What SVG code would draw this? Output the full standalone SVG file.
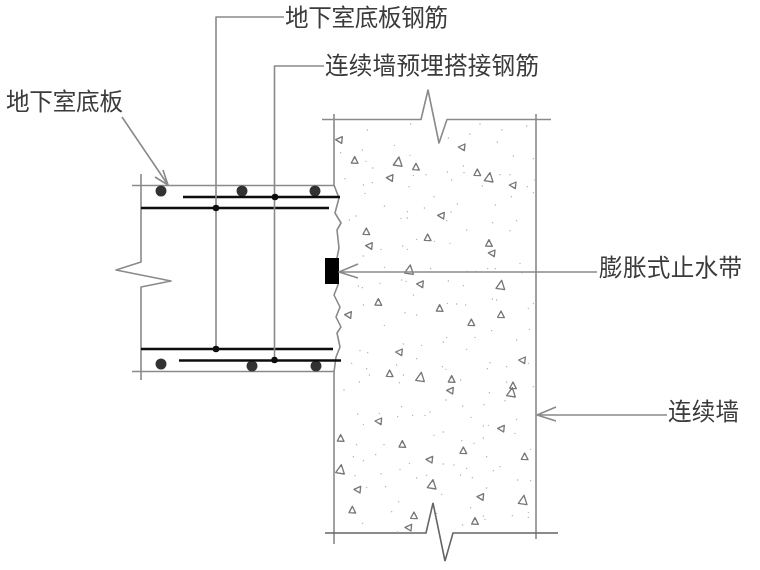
<svg xmlns="http://www.w3.org/2000/svg" xmlns:xlink="http://www.w3.org/1999/xlink" width="760" height="570" viewBox="0 0 760 570">
<style>
.l{fill:none;stroke:#8a8a8a;stroke-width:1.6;stroke-linejoin:round}
.d{fill:none;stroke:#666;stroke-width:1.6}
.b{fill:none;stroke:#111;stroke-width:2.6}
.t{font-family:"Noto Sans CJK SC","Liberation Serif",serif;font-size:23.6px;fill:#3a3a3a;font-weight:400}
.tri{fill:none;stroke:#777;stroke-width:4;stroke-linejoin:round}
.dots{fill:none;stroke:#aaa;stroke-width:4;stroke-linecap:round}
</style>
<defs>
<filter id="soft" filterUnits="userSpaceOnUse" x="0" y="0" width="760" height="570"><feGaussianBlur stdDeviation="0.45"/></filter>
<path id="s" class="tri" d="M-11-2L9-11L7 9Z"/>
<path id="u" class="tri" d="M0-11L10 9L-10 8Z"/>
<path id="L" class="tri" d="M4-15L13 13L-13 9Z"/>
</defs>
<rect width="760" height="570" fill="#fff"/>
<g filter="url(#soft)">
<g id="continuous-wall">
<path class="l" d="M334 114V185"/>
<path class="l" d="M334 185L339 198L335 213L341 223L337 230L339 248L337 258L338 285L334 295L340 307L336 317L341 327L337 333L340 347L336 357L334 372V544"/>
<path class="l" d="M536 114V539"/>
<path class="l" d="M322 119.500H421L428 90L439 143L447 119.500H551"/>
<path class="d" d="M325 533H426L433 503L445 561L453 533H558"/>
<g transform="translate(320,80) scale(.3333)">
<path class="dots" d="M142 150h.1M272 132h.1M480 132h.1M546 150h.1M620 138h.1M450 162h.1M532 186h.1M385 174h.1M223 196h.1M127 210h.1M62 218h.1M270 226h.1M580 228h.1M640 236h.1M138 244h.1M430 258h.1M158 264h.1M382 276h.1M432 278h.1M318 284h.1M280 286h.1M540 284h.1M570 284h.1M75 296h.1M395 300h.1M130 315h.1M157 308h.1M267 320h.1M487 318h.1M622 320h.1M645 300h.1M135 340h.1M342 350h.1M640 338h.1M574 350h.1M193 378h.1M412 372h.1M313 384h.1M526 375h.1M108 408h.1M243 415h.1M262 395h.1M262 414h.1M393 396h.1M380 422h.1M590 422h.1M518 428h.1M88 420h.1M440 450h.1M570 452h.1M290 478h.1M343 484h.1M390 490h.1M248 498h.1M183 508h.1M130 528h.1M262 508h.1M332 566h.1M194 562h.1M442 574h.1M468 574h.1M503 566h.1M526 566h.1M606 578h.1M600 550h.1M245 600h.1M258 604h.1M385 603h.1M430 617h.1M180 610h.1M115 618h.1M127 623h.1M280 645h.1M517 657h.1M530 660h.1M130 675h.1M255 698h.1M290 705h.1M437 675h.1M410 672h.1M382 670h.1M625 685h.1M640 670h.1"/>
<g>
<use xlink:href="#s" x="58" y="181"/><use xlink:href="#u" x="104" y="241"/><use xlink:href="#L" x="233" y="246"/><use xlink:href="#u" x="288" y="261"/><use xlink:href="#s" x="210" y="295"/><use xlink:href="#s" x="426" y="203"/><use xlink:href="#u" x="472" y="278"/><use xlink:href="#L" x="506" y="293"/><use xlink:href="#s" x="579" y="317"/><use xlink:href="#s" x="364" y="408"/><use xlink:href="#u" x="139" y="455"/><use xlink:href="#s" x="148" y="499"/><use xlink:href="#u" x="323" y="473"/><use xlink:href="#u" x="507" y="490"/><use xlink:href="#s" x="516" y="521"/><use xlink:href="#L" x="267" y="570"/><use xlink:href="#s" x="301" y="614"/><use xlink:href="#L" x="541" y="616"/><use xlink:href="#u" x="175" y="667"/><use xlink:href="#u" x="359" y="685"/><use xlink:href="#s" x="85" y="706"/><use xlink:href="#u" x="543" y="704"/>
</g>
</g>
<g transform="translate(320,320) scale(.3333)">
<path class="dots" d="M193 16h.1M515 32h.1M628 28h.1M590 60h.1M380 52h.1M370 66h.1M465 52h.1M250 72h.1M305 76h.1M440 88h.1M120 92h.1M143 98h.1M290 116h.1M510 128h.1M95 130h.1M230 135h.1M140 146h.1M148 165h.1M250 165h.1M367 140h.1M378 148h.1M502 146h.1M560 140h.1M625 130h.1M422 180h.1M118 186h.1M238 188h.1M560 186h.1M640 200h.1M72 210h.1M508 218h.1M378 240h.1M555 242h.1M245 260h.1M428 258h.1M492 254h.1M113 282h.1M178 280h.1M233 290h.1M278 286h.1M315 286h.1M330 276h.1M453 292h.1M130 313h.1M590 298h.1M490 318h.1M505 316h.1M370 336h.1M342 346h.1M585 340h.1M490 354h.1M110 374h.1M192 374h.1M425 362h.1M462 370h.1M632 388h.1M100 410h.1M130 422h.1M167 404h.1M268 430h.1M240 448h.1M370 432h.1M402 435h.1M440 445h.1M500 410h.1M520 452h.1M540 440h.1M183 461h.1M105 467h.1M290 474h.1M320 466h.1M422 465h.1M457 473h.1M593 480h.1M632 482h.1M197 500h.1M365 523h.1M500 504h.1M140 502h.1M236 545h.1M215 575h.1M452 563h.1M490 588h.1M495 598h.1M350 580h.1M577 587h.1M625 577h.1M625 592h.1M128 610h.1M233 636h.1M428 615h.1"/>
<g>
<use xlink:href="#u" x="454" y="8"/><use xlink:href="#s" x="238" y="98"/><use xlink:href="#u" x="209" y="161"/><use xlink:href="#L" x="300" y="172"/><use xlink:href="#u" x="395" y="178"/><use xlink:href="#s" x="391" y="213"/><use xlink:href="#s" x="607" y="122"/><use xlink:href="#u" x="579" y="197"/><use xlink:href="#L" x="573" y="218"/><use xlink:href="#s" x="176" y="305"/><use xlink:href="#s" x="544" y="327"/><use xlink:href="#u" x="62" y="355"/><use xlink:href="#u" x="247" y="373"/><use xlink:href="#u" x="430" y="392"/><use xlink:href="#s" x="329" y="420"/><use xlink:href="#u" x="614" y="410"/><use xlink:href="#L" x="60" y="449"/><use xlink:href="#s" x="113" y="510"/><use xlink:href="#L" x="335" y="494"/><use xlink:href="#s" x="482" y="532"/><use xlink:href="#L" x="608" y="541"/><use xlink:href="#u" x="97" y="570"/><use xlink:href="#u" x="282" y="587"/><use xlink:href="#u" x="465" y="604"/><use xlink:href="#s" x="266" y="624"/>
</g>
</g>
</g>
<g id="basement-slab">
<path class="l" d="M141 174V262L116 270L171 281L141 287V380"/>
<path class="l" d="M132 185.500H334"/>
<path class="l" d="M132 371.500H334"/>
</g>
<g id="rebars">
<circle cx="161" cy="191" r="5.500" fill="#333"/><circle cx="242" cy="191" r="5.500" fill="#333"/><circle cx="315" cy="191" r="5.500" fill="#333"/>
<circle cx="161" cy="364" r="5.500" fill="#333"/><circle cx="252" cy="366" r="5.500" fill="#333"/><circle cx="316" cy="366" r="5.500" fill="#333"/>
<path class="b" d="M183 197H340M141 208H329M141 349H333M179 360.500H341"/>
</g>
<g id="waterstop"><rect x="325" y="258" width="14" height="26" fill="#000"/></g>
<g id="connectors">
<path class="l" d="M284 17H216V349"/>
<path class="l" d="M324 66H274.500V360"/>
<path class="l" d="M122 117L168 185M155 177L168 185L163 170"/>
<path class="l" d="M597 272H339M358 264L339 272L358 278"/>
<path class="l" d="M667 415H537M556 407L537 415L556 421"/>
<circle cx="216" cy="208" r="3.200" fill="#111"/><circle cx="275" cy="197" r="3.200" fill="#111"/><circle cx="216" cy="349" r="3.200" fill="#111"/><circle cx="274.500" cy="360" r="3.200" fill="#111"/>
</g>
<g id="labels">
<text class="t" x="6" y="110" textLength="117">地下室底板</text>
<text class="t" x="285" y="26" textLength="163">地下室底板钢筋</text>
<text class="t" x="325" y="74" textLength="214">连续墙预埋搭接钢筋</text>
<text class="t" x="599" y="276" textLength="143">膨胀式止水带</text>
<text class="t" x="668" y="420" textLength="71">连续墙</text>
</g>
</g>
</svg>
